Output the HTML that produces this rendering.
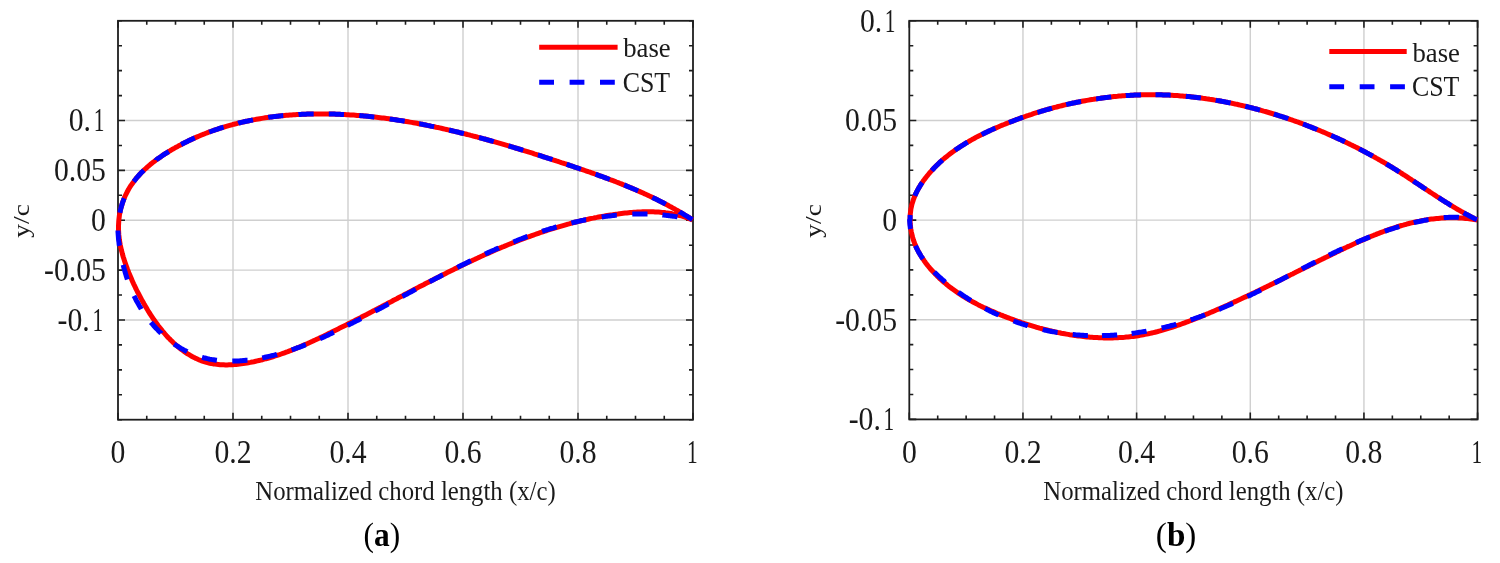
<!DOCTYPE html>
<html><head><meta charset="utf-8"><title>Airfoil comparison</title>
<style>
html,body{margin:0;padding:0;background:#fff;}
svg{display:block;}
text{font-family:"Liberation Serif","Times New Roman",serif;fill:#1a1a1a;}
.tk{font-size:33px;}
.lb{font-size:27.5px;}
.lg{font-size:28.3px;}
.lg2{font-size:29.5px;}
.cap{font-size:33.8px;fill:#000;}
.g{stroke:#cfcfcf;stroke-width:1.4;fill:none;}
.t{stroke:#1e1e1e;stroke-width:1.6;fill:none;}
.ax{stroke:#1e1e1e;stroke-width:1.8;fill:none;}
.rc{stroke:#ff0000;stroke-width:5;fill:none;stroke-linejoin:round;}
.bc{stroke:#0000ff;stroke-width:5;fill:none;stroke-linejoin:round;}
</style></head>
<body>
<svg width="1500" height="563" viewBox="0 0 1500 563">
<rect width="1500" height="563" fill="#fff"/>
<line x1="233.00" y1="20.80" x2="233.00" y2="419.70" class="g"/>
<line x1="348.00" y1="20.80" x2="348.00" y2="419.70" class="g"/>
<line x1="463.00" y1="20.80" x2="463.00" y2="419.70" class="g"/>
<line x1="578.00" y1="20.80" x2="578.00" y2="419.70" class="g"/>
<line x1="118.00" y1="120.52" x2="693.00" y2="120.52" class="g"/>
<line x1="118.00" y1="170.39" x2="693.00" y2="170.39" class="g"/>
<line x1="118.00" y1="220.25" x2="693.00" y2="220.25" class="g"/>
<line x1="118.00" y1="270.11" x2="693.00" y2="270.11" class="g"/>
<line x1="118.00" y1="319.98" x2="693.00" y2="319.98" class="g"/>
<line x1="1022.96" y1="20.80" x2="1022.96" y2="419.40" class="g"/>
<line x1="1136.62" y1="20.80" x2="1136.62" y2="419.40" class="g"/>
<line x1="1250.28" y1="20.80" x2="1250.28" y2="419.40" class="g"/>
<line x1="1363.94" y1="20.80" x2="1363.94" y2="419.40" class="g"/>
<line x1="909.30" y1="120.45" x2="1477.60" y2="120.45" class="g"/>
<line x1="909.30" y1="220.10" x2="1477.60" y2="220.10" class="g"/>
<line x1="909.30" y1="319.75" x2="1477.60" y2="319.75" class="g"/>
<path d="M118.00 419.70v-7.0M118.00 20.80v7.0M146.75 419.70v-4.0M146.75 20.80v4.0M175.50 419.70v-4.0M175.50 20.80v4.0M204.25 419.70v-4.0M204.25 20.80v4.0M233.00 419.70v-7.0M233.00 20.80v7.0M261.75 419.70v-4.0M261.75 20.80v4.0M290.50 419.70v-4.0M290.50 20.80v4.0M319.25 419.70v-4.0M319.25 20.80v4.0M348.00 419.70v-7.0M348.00 20.80v7.0M376.75 419.70v-4.0M376.75 20.80v4.0M405.50 419.70v-4.0M405.50 20.80v4.0M434.25 419.70v-4.0M434.25 20.80v4.0M463.00 419.70v-7.0M463.00 20.80v7.0M491.75 419.70v-4.0M491.75 20.80v4.0M520.50 419.70v-4.0M520.50 20.80v4.0M549.25 419.70v-4.0M549.25 20.80v4.0M578.00 419.70v-7.0M578.00 20.80v7.0M606.75 419.70v-4.0M606.75 20.80v4.0M635.50 419.70v-4.0M635.50 20.80v4.0M664.25 419.70v-4.0M664.25 20.80v4.0M693.00 419.70v-7.0M693.00 20.80v7.0M118.00 419.70h4.0M693.00 419.70h-4.0M118.00 394.77h4.0M693.00 394.77h-4.0M118.00 369.84h4.0M693.00 369.84h-4.0M118.00 344.91h4.0M693.00 344.91h-4.0M118.00 319.98h7.0M693.00 319.98h-7.0M118.00 295.04h4.0M693.00 295.04h-4.0M118.00 270.11h7.0M693.00 270.11h-7.0M118.00 245.18h4.0M693.00 245.18h-4.0M118.00 220.25h7.0M693.00 220.25h-7.0M118.00 195.32h4.0M693.00 195.32h-4.0M118.00 170.39h7.0M693.00 170.39h-7.0M118.00 145.46h4.0M693.00 145.46h-4.0M118.00 120.52h7.0M693.00 120.52h-7.0M118.00 95.59h4.0M693.00 95.59h-4.0M118.00 70.66h4.0M693.00 70.66h-4.0M118.00 45.73h4.0M693.00 45.73h-4.0M118.00 20.80h4.0M693.00 20.80h-4.0" class="t"/>
<rect x="118.00" y="20.80" width="575.00" height="398.90" class="ax"/>
<path d="M909.30 419.40v-7.0M909.30 20.80v7.0M937.71 419.40v-4.0M937.71 20.80v4.0M966.13 419.40v-4.0M966.13 20.80v4.0M994.54 419.40v-4.0M994.54 20.80v4.0M1022.96 419.40v-7.0M1022.96 20.80v7.0M1051.38 419.40v-4.0M1051.38 20.80v4.0M1079.79 419.40v-4.0M1079.79 20.80v4.0M1108.20 419.40v-4.0M1108.20 20.80v4.0M1136.62 419.40v-7.0M1136.62 20.80v7.0M1165.03 419.40v-4.0M1165.03 20.80v4.0M1193.45 419.40v-4.0M1193.45 20.80v4.0M1221.87 419.40v-4.0M1221.87 20.80v4.0M1250.28 419.40v-7.0M1250.28 20.80v7.0M1278.69 419.40v-4.0M1278.69 20.80v4.0M1307.11 419.40v-4.0M1307.11 20.80v4.0M1335.52 419.40v-4.0M1335.52 20.80v4.0M1363.94 419.40v-7.0M1363.94 20.80v7.0M1392.36 419.40v-4.0M1392.36 20.80v4.0M1420.77 419.40v-4.0M1420.77 20.80v4.0M1449.18 419.40v-4.0M1449.18 20.80v4.0M1477.60 419.40v-7.0M1477.60 20.80v7.0M909.30 419.40h7.0M1477.60 419.40h-7.0M909.30 394.49h4.0M1477.60 394.49h-4.0M909.30 369.57h4.0M1477.60 369.57h-4.0M909.30 344.66h4.0M1477.60 344.66h-4.0M909.30 319.75h7.0M1477.60 319.75h-7.0M909.30 294.84h4.0M1477.60 294.84h-4.0M909.30 269.92h4.0M1477.60 269.92h-4.0M909.30 245.01h4.0M1477.60 245.01h-4.0M909.30 220.10h7.0M1477.60 220.10h-7.0M909.30 195.19h4.0M1477.60 195.19h-4.0M909.30 170.28h4.0M1477.60 170.28h-4.0M909.30 145.36h4.0M1477.60 145.36h-4.0M909.30 120.45h7.0M1477.60 120.45h-7.0M909.30 95.54h4.0M1477.60 95.54h-4.0M909.30 70.62h4.0M1477.60 70.62h-4.0M909.30 45.71h4.0M1477.60 45.71h-4.0M909.30 20.80h7.0M1477.60 20.80h-7.0" class="t"/>
<rect x="909.30" y="20.80" width="568.30" height="398.60" class="ax"/>
<path d="M692.6 219.9 L691.1 218.9 L689.6 217.9 L688.1 217.0 L686.5 216.0 L685.0 215.1 L683.5 214.2 L681.9 213.2 L680.4 212.3 L678.8 211.4 L677.3 210.5 L675.7 209.6 L674.2 208.7 L672.6 207.9 L671.1 207.0 L669.5 206.2 L667.9 205.3 L666.4 204.5 L664.8 203.7 L663.2 202.8 L661.6 202.0 L660.1 201.2 L658.5 200.4 L656.9 199.6 L655.3 198.8 L653.7 198.1 L652.1 197.3 L650.5 196.5 L648.9 195.8 L647.3 195.0 L645.7 194.3 L644.1 193.6 L642.5 192.8 L640.9 192.1 L639.3 191.4 L637.6 190.7 L636.0 190.0 L634.4 189.3 L632.8 188.6 L631.2 187.9 L629.5 187.2 L627.9 186.6 L626.3 185.9 L624.6 185.2 L623.0 184.6 L621.4 183.9 L619.7 183.3 L618.1 182.6 L616.4 182.0 L614.8 181.3 L613.1 180.7 L611.5 180.1 L609.8 179.5 L608.2 178.8 L606.5 178.2 L604.9 177.6 L603.2 177.0 L601.5 176.4 L599.9 175.8 L598.2 175.2 L596.6 174.6 L594.9 174.0 L593.2 173.4 L591.6 172.8 L589.9 172.2 L588.2 171.7 L586.5 171.1 L584.9 170.5 L583.2 169.9 L581.5 169.3 L579.8 168.8 L578.2 168.2 L576.5 167.6 L574.8 167.1 L573.1 166.5 L571.4 165.9 L569.7 165.4 L568.1 164.8 L566.4 164.2 L564.7 163.7 L563.0 163.1 L561.3 162.6 L559.6 162.0 L557.9 161.4 L556.3 160.9 L554.6 160.3 L552.9 159.8 L551.2 159.2 L549.5 158.7 L547.8 158.1 L546.1 157.6 L544.4 157.0 L542.7 156.5 L541.0 155.9 L539.3 155.4 L537.6 154.8 L535.9 154.3 L534.2 153.8 L532.5 153.2 L530.8 152.7 L529.1 152.2 L527.4 151.6 L525.7 151.1 L524.0 150.6 L522.3 150.0 L520.6 149.5 L518.9 149.0 L517.2 148.5 L515.5 148.0 L513.8 147.4 L512.0 146.9 L510.3 146.4 L508.6 145.9 L506.9 145.4 L505.2 144.9 L503.5 144.4 L501.8 143.9 L500.1 143.4 L498.3 142.9 L496.6 142.4 L494.9 141.9 L493.2 141.4 L491.5 141.0 L489.7 140.5 L488.0 140.0 L486.3 139.5 L484.6 139.0 L482.9 138.6 L481.1 138.1 L479.4 137.6 L477.7 137.2 L476.0 136.7 L474.2 136.3 L472.5 135.8 L470.8 135.4 L469.1 134.9 L467.3 134.5 L465.6 134.0 L463.9 133.6 L462.1 133.2 L460.4 132.8 L458.7 132.3 L456.9 131.9 L455.2 131.5 L453.5 131.1 L451.7 130.7 L450.0 130.3 L448.3 129.9 L446.5 129.5 L444.8 129.1 L443.1 128.7 L441.3 128.3 L439.6 127.9 L437.9 127.5 L436.1 127.2 L434.4 126.8 L432.6 126.4 L430.9 126.1 L429.1 125.7 L427.4 125.4 L425.7 125.0 L423.9 124.7 L422.2 124.3 L420.4 124.0 L418.7 123.7 L416.9 123.3 L415.2 123.0 L413.4 122.7 L411.7 122.4 L409.9 122.1 L408.2 121.8 L406.4 121.5 L404.7 121.2 L402.9 120.9 L401.2 120.6 L399.4 120.4 L397.7 120.1 L395.9 119.8 L394.2 119.6 L392.4 119.3 L390.7 119.1 L388.9 118.8 L387.1 118.6 L385.4 118.3 L383.6 118.1 L381.9 117.9 L380.1 117.7 L378.4 117.5 L376.6 117.3 L374.8 117.1 L373.1 116.9 L371.3 116.7 L369.5 116.5 L367.8 116.3 L366.0 116.1 L364.3 116.0 L362.5 115.8 L360.7 115.7 L359.0 115.5 L357.2 115.4 L355.4 115.2 L353.7 115.1 L351.9 115.0 L350.1 114.9 L348.4 114.8 L346.6 114.7 L344.8 114.6 L343.1 114.5 L341.3 114.4 L339.5 114.3 L337.7 114.2 L336.0 114.2 L334.2 114.1 L332.4 114.1 L330.6 114.0 L328.9 114.0 L327.1 113.9 L325.3 113.9 L323.6 113.9 L321.8 113.9 L320.0 113.9 L318.2 113.9 L316.4 113.9 L314.7 113.9 L312.9 114.0 L311.1 114.0 L309.3 114.0 L307.6 114.1 L305.8 114.2 L304.0 114.2 L302.2 114.3 L300.5 114.4 L298.7 114.5 L296.9 114.6 L295.2 114.7 L293.4 114.8 L291.6 114.9 L289.8 115.0 L288.1 115.2 L286.3 115.3 L284.5 115.5 L282.8 115.7 L281.0 115.8 L279.2 116.0 L277.5 116.2 L275.7 116.4 L274.0 116.6 L272.2 116.9 L270.4 117.1 L268.7 117.3 L266.9 117.6 L265.2 117.8 L263.4 118.1 L261.7 118.4 L259.9 118.7 L258.2 119.0 L256.4 119.3 L254.7 119.6 L253.0 119.9 L251.2 120.3 L249.5 120.6 L247.8 121.0 L246.0 121.3 L244.3 121.7 L242.6 122.1 L240.8 122.5 L239.1 122.9 L237.4 123.3 L235.7 123.8 L234.0 124.2 L232.3 124.7 L230.6 125.1 L228.8 125.6 L227.1 126.1 L225.4 126.6 L223.8 127.1 L222.1 127.6 L220.4 128.2 L218.7 128.7 L217.0 129.3 L215.3 129.9 L213.6 130.4 L212.0 131.0 L210.3 131.6 L208.6 132.2 L207.0 132.9 L205.3 133.5 L203.7 134.2 L202.0 134.8 L200.4 135.5 L198.7 136.2 L197.1 136.9 L195.4 137.6 L193.8 138.4 L192.2 139.1 L190.6 139.9 L188.9 140.6 L187.3 141.4 L185.7 142.2 L184.1 143.0 L182.5 143.8 L180.9 144.7 L179.3 145.5 L177.7 146.4 L176.1 147.2 L174.6 148.1 L173.0 149.0 L171.4 149.9 L169.9 150.9 L168.3 151.8 L166.8 152.8 L165.2 153.7 L163.7 154.7 L162.2 155.7 L160.7 156.8 L159.2 157.8 L157.7 158.8 L156.2 159.9 L154.8 161.0 L153.4 162.1 L151.9 163.2 L150.5 164.3 L149.2 165.5 L147.8 166.6 L146.5 167.8 L145.2 169.0 L143.9 170.2 L142.6 171.5 L141.3 172.7 L140.1 174.0 L138.9 175.3 L137.8 176.6 L136.6 177.9 L135.5 179.3 L134.4 180.7 L133.4 182.1 L132.4 183.5 L131.4 184.9 L130.4 186.3 L129.5 187.8 L128.6 189.3 L127.8 190.8 L127.0 192.3 L126.2 193.9 L125.4 195.5 L124.7 197.0 L124.1 198.6 L123.4 200.3 L122.8 201.9 L122.3 203.5 L121.8 205.2 L121.3 206.9 L120.8 208.5 L120.4 210.2 L120.1 211.9 L119.7 213.6 L119.4 215.4 L119.2 217.1 L119.0 218.8 L118.8 220.6 L118.7 222.3 L118.6 224.1 L118.5 225.8 L118.5 227.6 L118.5 229.4 L118.6 231.1 L118.7 232.9 L118.8 234.7 L119.0 236.4 L119.2 238.2 L119.4 240.0 L119.7 241.7 L120.0 243.5 L120.3 245.2 L120.7 247.0 L121.1 248.8 L121.5 250.5 L122.0 252.3 L122.4 254.0 L122.9 255.7 L123.4 257.5 L124.0 259.2 L124.5 260.9 L125.1 262.6 L125.7 264.3 L126.3 266.0 L126.9 267.7 L127.5 269.4 L128.2 271.0 L128.8 272.7 L129.5 274.3 L130.2 276.0 L130.9 277.6 L131.6 279.3 L132.3 280.9 L133.0 282.5 L133.7 284.1 L134.5 285.7 L135.3 287.3 L136.0 288.9 L136.8 290.5 L137.6 292.1 L138.5 293.6 L139.3 295.2 L140.1 296.8 L141.0 298.4 L141.8 299.9 L142.7 301.5 L143.6 303.1 L144.4 304.6 L145.3 306.2 L146.3 307.7 L147.2 309.3 L148.1 310.8 L149.1 312.3 L150.0 313.9 L151.0 315.4 L152.0 316.9 L153.0 318.4 L154.0 319.9 L155.1 321.3 L156.1 322.8 L157.2 324.3 L158.2 325.7 L159.3 327.1 L160.4 328.5 L161.6 329.9 L162.7 331.3 L163.9 332.7 L165.0 334.0 L166.2 335.4 L167.4 336.7 L168.6 338.0 L169.9 339.2 L171.1 340.5 L172.4 341.7 L173.7 343.0 L175.0 344.2 L176.3 345.3 L177.7 346.5 L179.0 347.6 L180.4 348.7 L181.8 349.8 L183.2 350.8 L184.7 351.9 L186.1 352.8 L187.6 353.8 L189.1 354.7 L190.6 355.6 L192.1 356.5 L193.6 357.3 L195.2 358.1 L196.8 358.8 L198.3 359.5 L199.9 360.2 L201.6 360.8 L203.2 361.4 L204.8 361.9 L206.5 362.4 L208.2 362.8 L209.8 363.2 L211.5 363.6 L213.2 363.9 L215.0 364.1 L216.7 364.3 L218.4 364.5 L220.2 364.7 L221.9 364.8 L223.7 364.8 L225.4 364.9 L227.2 364.9 L229.0 364.8 L230.7 364.8 L232.5 364.7 L234.3 364.6 L236.1 364.4 L237.9 364.2 L239.6 364.0 L241.4 363.8 L243.2 363.6 L245.0 363.3 L246.8 363.0 L248.5 362.7 L250.3 362.4 L252.1 362.0 L253.8 361.7 L255.6 361.3 L257.3 360.9 L259.0 360.5 L260.8 360.1 L262.5 359.7 L264.2 359.2 L266.0 358.7 L267.7 358.3 L269.4 357.8 L271.1 357.3 L272.8 356.8 L274.5 356.2 L276.2 355.7 L277.9 355.1 L279.5 354.6 L281.2 354.0 L282.9 353.4 L284.6 352.8 L286.2 352.2 L287.9 351.6 L289.6 350.9 L291.2 350.3 L292.9 349.7 L294.5 349.0 L296.2 348.3 L297.8 347.7 L299.5 347.0 L301.1 346.3 L302.7 345.6 L304.4 344.9 L306.0 344.2 L307.6 343.5 L309.3 342.7 L310.9 342.0 L312.5 341.3 L314.1 340.5 L315.7 339.8 L317.4 339.0 L319.0 338.3 L320.6 337.5 L322.2 336.7 L323.8 336.0 L325.4 335.2 L327.0 334.4 L328.6 333.6 L330.2 332.9 L331.8 332.1 L333.4 331.3 L335.0 330.5 L336.6 329.7 L338.2 328.9 L339.8 328.1 L341.4 327.3 L343.0 326.5 L344.6 325.7 L346.2 324.9 L347.8 324.1 L349.4 323.3 L351.0 322.5 L352.5 321.7 L354.1 320.9 L355.7 320.1 L357.3 319.3 L358.9 318.5 L360.5 317.7 L362.1 316.8 L363.6 316.0 L365.2 315.2 L366.8 314.4 L368.4 313.6 L370.0 312.7 L371.5 311.9 L373.1 311.1 L374.7 310.3 L376.3 309.4 L377.9 308.6 L379.4 307.8 L381.0 307.0 L382.6 306.1 L384.2 305.3 L385.7 304.5 L387.3 303.6 L388.9 302.8 L390.5 302.0 L392.0 301.2 L393.6 300.3 L395.2 299.5 L396.8 298.7 L398.4 297.8 L399.9 297.0 L401.5 296.2 L403.1 295.4 L404.7 294.5 L406.2 293.7 L407.8 292.9 L409.4 292.1 L411.0 291.2 L412.5 290.4 L414.1 289.6 L415.7 288.8 L417.3 287.9 L418.8 287.1 L420.4 286.3 L422.0 285.5 L423.6 284.7 L425.2 283.8 L426.7 283.0 L428.3 282.2 L429.9 281.4 L431.5 280.6 L433.1 279.8 L434.6 279.0 L436.2 278.2 L437.8 277.4 L439.4 276.6 L441.0 275.8 L442.6 275.0 L444.1 274.2 L445.7 273.4 L447.3 272.6 L448.9 271.8 L450.5 271.0 L452.1 270.2 L453.7 269.4 L455.3 268.6 L456.9 267.9 L458.5 267.1 L460.1 266.3 L461.7 265.5 L463.2 264.8 L464.8 264.0 L466.4 263.2 L468.0 262.5 L469.6 261.7 L471.3 261.0 L472.9 260.2 L474.5 259.5 L476.1 258.7 L477.7 258.0 L479.3 257.2 L480.9 256.5 L482.5 255.8 L484.1 255.0 L485.7 254.3 L487.4 253.6 L489.0 252.9 L490.6 252.1 L492.2 251.4 L493.8 250.7 L495.5 250.0 L497.1 249.3 L498.7 248.6 L500.4 247.9 L502.0 247.2 L503.6 246.6 L505.3 245.9 L506.9 245.2 L508.5 244.5 L510.2 243.9 L511.8 243.2 L513.5 242.6 L515.1 241.9 L516.8 241.3 L518.4 240.6 L520.1 240.0 L521.7 239.3 L523.4 238.7 L525.0 238.1 L526.7 237.5 L528.4 236.9 L530.0 236.3 L531.7 235.7 L533.4 235.1 L535.0 234.5 L536.7 233.9 L538.4 233.3 L540.1 232.7 L541.8 232.2 L543.5 231.6 L545.1 231.0 L546.8 230.5 L548.5 229.9 L550.2 229.4 L551.9 228.9 L553.6 228.3 L555.3 227.8 L557.0 227.3 L558.7 226.8 L560.4 226.3 L562.2 225.8 L563.9 225.3 L565.6 224.8 L567.3 224.3 L569.0 223.9 L570.8 223.4 L572.5 222.9 L574.2 222.5 L575.9 222.0 L577.7 221.6 L579.4 221.2 L581.1 220.8 L582.9 220.4 L584.6 220.0 L586.4 219.6 L588.1 219.2 L589.8 218.8 L591.6 218.4 L593.3 218.1 L595.1 217.7 L596.8 217.4 L598.6 217.0 L600.3 216.7 L602.1 216.4 L603.9 216.1 L605.6 215.8 L607.4 215.5 L609.1 215.2 L610.9 214.9 L612.7 214.7 L614.4 214.4 L616.2 214.2 L617.9 214.0 L619.7 213.7 L621.5 213.5 L623.2 213.3 L625.0 213.1 L626.8 213.0 L628.6 212.8 L630.3 212.6 L632.1 212.5 L633.9 212.3 L635.6 212.2 L637.4 212.1 L639.2 212.0 L641.0 211.9 L642.7 211.8 L644.5 211.8 L646.3 211.8 L648.0 211.7 L649.8 211.7 L651.6 211.8 L653.3 211.8 L655.1 211.9 L656.9 212.0 L658.6 212.1 L660.4 212.2 L662.1 212.4 L663.9 212.5 L665.6 212.8 L667.4 213.0 L669.1 213.2 L670.9 213.5 L672.6 213.9 L674.3 214.2 L676.0 214.6 L677.8 215.0 L679.5 215.5 L681.2 215.9 L682.9 216.4 L684.6 217.0 L686.3 217.6 L688.0 218.2 L689.7 218.9 L691.3 219.5 L692.6 220.1" class="rc"/>
<path d="M1477.4 220.0 L1475.9 219.3 L1474.3 218.5 L1472.8 217.7 L1471.3 216.9 L1469.8 216.1 L1468.3 215.3 L1466.7 214.5 L1465.2 213.7 L1463.7 212.9 L1462.3 212.0 L1460.8 211.2 L1459.3 210.3 L1457.8 209.5 L1456.3 208.6 L1454.8 207.7 L1453.4 206.8 L1451.9 205.9 L1450.4 205.1 L1449.0 204.2 L1447.5 203.2 L1446.0 202.3 L1444.6 201.4 L1443.1 200.5 L1441.7 199.6 L1440.2 198.7 L1438.8 197.7 L1437.3 196.8 L1435.9 195.9 L1434.4 194.9 L1433.0 194.0 L1431.5 193.0 L1430.1 192.1 L1428.7 191.1 L1427.2 190.2 L1425.8 189.2 L1424.3 188.3 L1422.9 187.3 L1421.5 186.4 L1420.0 185.4 L1418.6 184.5 L1417.2 183.5 L1415.7 182.6 L1414.3 181.6 L1412.8 180.7 L1411.4 179.7 L1410.0 178.8 L1408.5 177.8 L1407.1 176.9 L1405.6 175.9 L1404.2 175.0 L1402.7 174.1 L1401.3 173.1 L1399.8 172.2 L1398.4 171.3 L1396.9 170.4 L1395.4 169.5 L1394.0 168.6 L1392.5 167.6 L1391.1 166.7 L1389.6 165.9 L1388.1 165.0 L1386.6 164.1 L1385.2 163.2 L1383.7 162.3 L1382.2 161.5 L1380.7 160.6 L1379.2 159.8 L1377.7 158.9 L1376.2 158.1 L1374.7 157.2 L1373.2 156.4 L1371.7 155.5 L1370.2 154.7 L1368.7 153.9 L1367.2 153.1 L1365.7 152.3 L1364.2 151.5 L1362.7 150.7 L1361.2 149.9 L1359.6 149.1 L1358.1 148.3 L1356.6 147.5 L1355.1 146.8 L1353.5 146.0 L1352.0 145.2 L1350.4 144.5 L1348.9 143.7 L1347.4 143.0 L1345.8 142.2 L1344.3 141.5 L1342.7 140.7 L1341.2 140.0 L1339.6 139.3 L1338.0 138.6 L1336.5 137.9 L1334.9 137.2 L1333.3 136.5 L1331.8 135.8 L1330.2 135.1 L1328.6 134.4 L1327.1 133.7 L1325.5 133.0 L1323.9 132.3 L1322.3 131.7 L1320.7 131.0 L1319.1 130.3 L1317.5 129.7 L1315.9 129.0 L1314.3 128.4 L1312.7 127.8 L1311.1 127.1 L1309.5 126.5 L1307.9 125.9 L1306.3 125.3 L1304.7 124.6 L1303.1 124.0 L1301.5 123.4 L1299.9 122.8 L1298.2 122.2 L1296.6 121.7 L1295.0 121.1 L1293.3 120.5 L1291.7 119.9 L1290.1 119.4 L1288.5 118.8 L1286.8 118.2 L1285.2 117.7 L1283.5 117.1 L1281.9 116.6 L1280.2 116.1 L1278.6 115.6 L1276.9 115.0 L1275.3 114.5 L1273.6 114.0 L1272.0 113.5 L1270.3 113.0 L1268.7 112.5 L1267.0 112.0 L1265.4 111.5 L1263.7 111.1 L1262.0 110.6 L1260.4 110.1 L1258.7 109.7 L1257.0 109.2 L1255.3 108.8 L1253.7 108.4 L1252.0 107.9 L1250.3 107.5 L1248.6 107.1 L1247.0 106.7 L1245.3 106.3 L1243.6 105.9 L1241.9 105.5 L1240.2 105.1 L1238.6 104.7 L1236.9 104.3 L1235.2 104.0 L1233.5 103.6 L1231.8 103.2 L1230.1 102.9 L1228.4 102.6 L1226.7 102.2 L1225.0 101.9 L1223.3 101.6 L1221.6 101.3 L1219.9 101.0 L1218.2 100.7 L1216.5 100.4 L1214.8 100.1 L1213.1 99.8 L1211.4 99.5 L1209.7 99.3 L1208.0 99.0 L1206.3 98.8 L1204.6 98.5 L1202.9 98.3 L1201.2 98.0 L1199.5 97.8 L1197.8 97.6 L1196.1 97.4 L1194.4 97.2 L1192.7 97.0 L1191.0 96.8 L1189.3 96.6 L1187.5 96.5 L1185.8 96.3 L1184.1 96.2 L1182.4 96.0 L1180.7 95.9 L1179.0 95.7 L1177.3 95.6 L1175.6 95.5 L1173.9 95.4 L1172.1 95.3 L1170.4 95.2 L1168.7 95.1 L1167.0 95.0 L1165.3 95.0 L1163.6 94.9 L1161.9 94.8 L1160.1 94.8 L1158.4 94.8 L1156.7 94.7 L1155.0 94.7 L1153.3 94.7 L1151.6 94.7 L1149.9 94.7 L1148.2 94.7 L1146.4 94.7 L1144.7 94.8 L1143.0 94.8 L1141.3 94.8 L1139.6 94.9 L1137.9 94.9 L1136.2 95.0 L1134.5 95.1 L1132.8 95.2 L1131.0 95.3 L1129.3 95.4 L1127.6 95.5 L1125.9 95.6 L1124.2 95.7 L1122.5 95.8 L1120.8 96.0 L1119.1 96.1 L1117.4 96.3 L1115.7 96.4 L1114.0 96.6 L1112.3 96.8 L1110.6 97.0 L1108.9 97.2 L1107.2 97.4 L1105.5 97.6 L1103.8 97.8 L1102.1 98.0 L1100.4 98.3 L1098.7 98.5 L1097.0 98.8 L1095.3 99.0 L1093.6 99.3 L1091.9 99.5 L1090.2 99.8 L1088.5 100.1 L1086.8 100.4 L1085.1 100.7 L1083.4 101.0 L1081.8 101.3 L1080.1 101.7 L1078.4 102.0 L1076.7 102.3 L1075.0 102.7 L1073.3 103.0 L1071.7 103.4 L1070.0 103.8 L1068.3 104.1 L1066.6 104.5 L1064.9 104.9 L1063.3 105.3 L1061.6 105.7 L1059.9 106.1 L1058.3 106.5 L1056.6 107.0 L1054.9 107.4 L1053.2 107.8 L1051.6 108.3 L1049.9 108.8 L1048.3 109.2 L1046.6 109.7 L1044.9 110.2 L1043.3 110.7 L1041.6 111.2 L1040.0 111.7 L1038.3 112.2 L1036.7 112.7 L1035.0 113.2 L1033.4 113.7 L1031.7 114.3 L1030.1 114.8 L1028.4 115.4 L1026.8 115.9 L1025.2 116.5 L1023.5 117.1 L1021.9 117.6 L1020.3 118.2 L1018.6 118.8 L1017.0 119.4 L1015.4 120.0 L1013.8 120.6 L1012.1 121.3 L1010.5 121.9 L1008.9 122.5 L1007.3 123.2 L1005.7 123.8 L1004.1 124.5 L1002.4 125.1 L1000.8 125.8 L999.2 126.5 L997.6 127.2 L996.0 127.9 L994.4 128.6 L992.8 129.3 L991.3 130.0 L989.7 130.7 L988.1 131.4 L986.5 132.2 L984.9 132.9 L983.4 133.7 L981.8 134.5 L980.3 135.2 L978.7 136.0 L977.2 136.8 L975.6 137.6 L974.1 138.5 L972.6 139.3 L971.1 140.1 L969.6 141.0 L968.1 141.9 L966.6 142.7 L965.1 143.6 L963.6 144.5 L962.2 145.5 L960.7 146.4 L959.3 147.3 L957.8 148.3 L956.4 149.3 L955.0 150.2 L953.6 151.2 L952.2 152.2 L950.8 153.3 L949.5 154.3 L948.1 155.4 L946.8 156.4 L945.4 157.5 L944.1 158.6 L942.8 159.7 L941.5 160.9 L940.2 162.0 L939.0 163.2 L937.7 164.4 L936.5 165.6 L935.3 166.8 L934.1 168.0 L932.9 169.3 L931.7 170.6 L930.5 171.9 L929.4 173.2 L928.3 174.5 L927.2 175.8 L926.1 177.2 L925.0 178.6 L924.0 179.9 L923.0 181.3 L922.0 182.8 L921.1 184.2 L920.2 185.6 L919.3 187.1 L918.4 188.6 L917.6 190.1 L916.8 191.6 L916.1 193.1 L915.4 194.6 L914.7 196.2 L914.1 197.7 L913.5 199.3 L913.0 200.9 L912.5 202.5 L912.0 204.1 L911.6 205.7 L911.3 207.3 L910.9 209.0 L910.7 210.6 L910.5 212.2 L910.3 213.9 L910.2 215.6 L910.1 217.2 L910.1 218.9 L910.1 220.6 L910.1 222.3 L910.2 223.9 L910.4 225.6 L910.6 227.3 L910.8 228.9 L911.1 230.6 L911.4 232.3 L911.8 233.9 L912.2 235.6 L912.6 237.2 L913.1 238.9 L913.6 240.5 L914.2 242.1 L914.8 243.7 L915.5 245.3 L916.1 246.8 L916.9 248.4 L917.6 249.9 L918.4 251.5 L919.3 253.0 L920.1 254.5 L921.0 256.0 L921.9 257.4 L922.9 258.9 L923.9 260.3 L924.9 261.8 L925.9 263.2 L927.0 264.6 L928.1 266.0 L929.2 267.3 L930.3 268.7 L931.5 270.0 L932.7 271.3 L933.9 272.6 L935.1 273.9 L936.3 275.1 L937.6 276.4 L938.8 277.6 L940.1 278.8 L941.4 280.0 L942.7 281.1 L944.0 282.3 L945.4 283.4 L946.7 284.5 L948.0 285.6 L949.4 286.7 L950.8 287.7 L952.2 288.8 L953.6 289.8 L955.0 290.8 L956.4 291.8 L957.8 292.8 L959.2 293.7 L960.7 294.7 L962.1 295.6 L963.6 296.5 L965.0 297.4 L966.5 298.3 L968.0 299.2 L969.5 300.0 L971.0 300.9 L972.5 301.7 L974.0 302.5 L975.5 303.3 L977.0 304.1 L978.5 304.9 L980.1 305.7 L981.6 306.4 L983.2 307.2 L984.7 307.9 L986.3 308.6 L987.8 309.3 L989.4 310.1 L991.0 310.8 L992.5 311.4 L994.1 312.1 L995.7 312.8 L997.3 313.5 L998.9 314.1 L1000.5 314.8 L1002.1 315.4 L1003.7 316.1 L1005.3 316.7 L1006.9 317.3 L1008.5 317.9 L1010.1 318.5 L1011.7 319.1 L1013.3 319.7 L1014.9 320.3 L1016.5 320.9 L1018.2 321.5 L1019.8 322.0 L1021.4 322.6 L1023.1 323.1 L1024.7 323.7 L1026.3 324.2 L1028.0 324.7 L1029.6 325.2 L1031.3 325.7 L1032.9 326.2 L1034.6 326.7 L1036.2 327.2 L1037.9 327.6 L1039.5 328.1 L1041.2 328.5 L1042.9 329.0 L1044.5 329.4 L1046.2 329.8 L1047.9 330.2 L1049.5 330.6 L1051.2 331.0 L1052.9 331.4 L1054.6 331.8 L1056.3 332.1 L1057.9 332.5 L1059.6 332.8 L1061.3 333.2 L1063.0 333.5 L1064.7 333.8 L1066.4 334.1 L1068.1 334.4 L1069.8 334.7 L1071.5 334.9 L1073.2 335.2 L1074.9 335.4 L1076.6 335.7 L1078.3 335.9 L1080.0 336.1 L1081.7 336.3 L1083.4 336.5 L1085.2 336.7 L1086.9 336.9 L1088.6 337.0 L1090.3 337.2 L1092.0 337.3 L1093.7 337.4 L1095.5 337.5 L1097.2 337.6 L1098.9 337.7 L1100.6 337.8 L1102.3 337.8 L1104.0 337.9 L1105.8 337.9 L1107.5 337.9 L1109.2 337.9 L1110.9 337.9 L1112.6 337.9 L1114.4 337.8 L1116.1 337.8 L1117.8 337.7 L1119.5 337.6 L1121.2 337.5 L1122.9 337.4 L1124.6 337.3 L1126.4 337.1 L1128.1 337.0 L1129.8 336.8 L1131.5 336.6 L1133.2 336.4 L1134.9 336.2 L1136.6 335.9 L1138.3 335.7 L1140.0 335.4 L1141.6 335.1 L1143.3 334.8 L1145.0 334.4 L1146.7 334.1 L1148.4 333.8 L1150.1 333.4 L1151.7 333.0 L1153.4 332.6 L1155.1 332.2 L1156.8 331.8 L1158.4 331.3 L1160.1 330.9 L1161.7 330.4 L1163.4 329.9 L1165.1 329.4 L1166.7 328.9 L1168.4 328.4 L1170.0 327.9 L1171.7 327.4 L1173.3 326.8 L1174.9 326.3 L1176.6 325.7 L1178.2 325.2 L1179.9 324.6 L1181.5 324.0 L1183.1 323.4 L1184.7 322.8 L1186.4 322.2 L1188.0 321.6 L1189.6 321.0 L1191.2 320.4 L1192.8 319.7 L1194.5 319.1 L1196.1 318.5 L1197.7 317.8 L1199.3 317.2 L1200.9 316.5 L1202.5 315.9 L1204.1 315.2 L1205.7 314.5 L1207.3 313.9 L1208.9 313.2 L1210.4 312.5 L1212.0 311.9 L1213.6 311.2 L1215.2 310.5 L1216.8 309.8 L1218.4 309.1 L1219.9 308.5 L1221.5 307.8 L1223.1 307.1 L1224.6 306.4 L1226.2 305.7 L1227.8 305.0 L1229.3 304.3 L1230.9 303.6 L1232.5 302.9 L1234.0 302.1 L1235.6 301.4 L1237.1 300.7 L1238.7 300.0 L1240.3 299.3 L1241.8 298.6 L1243.4 297.8 L1244.9 297.1 L1246.5 296.4 L1248.0 295.6 L1249.6 294.9 L1251.1 294.2 L1252.6 293.4 L1254.2 292.7 L1255.7 292.0 L1257.3 291.2 L1258.8 290.5 L1260.4 289.7 L1261.9 289.0 L1263.4 288.3 L1265.0 287.5 L1266.5 286.8 L1268.1 286.0 L1269.6 285.3 L1271.1 284.5 L1272.7 283.7 L1274.2 283.0 L1275.7 282.2 L1277.3 281.5 L1278.8 280.7 L1280.4 280.0 L1281.9 279.2 L1283.4 278.4 L1285.0 277.7 L1286.5 276.9 L1288.0 276.1 L1289.6 275.4 L1291.1 274.6 L1292.6 273.9 L1294.2 273.1 L1295.7 272.3 L1297.2 271.6 L1298.8 270.8 L1300.3 270.0 L1301.9 269.3 L1303.4 268.5 L1304.9 267.7 L1306.5 267.0 L1308.0 266.2 L1309.6 265.4 L1311.1 264.6 L1312.7 263.9 L1314.2 263.1 L1315.7 262.3 L1317.3 261.6 L1318.8 260.8 L1320.4 260.0 L1321.9 259.3 L1323.5 258.5 L1325.0 257.7 L1326.6 257.0 L1328.2 256.2 L1329.7 255.5 L1331.3 254.7 L1332.8 253.9 L1334.4 253.2 L1336.0 252.4 L1337.5 251.6 L1339.1 250.9 L1340.7 250.1 L1342.2 249.4 L1343.8 248.6 L1345.4 247.9 L1346.9 247.1 L1348.5 246.4 L1350.1 245.7 L1351.7 244.9 L1353.2 244.2 L1354.8 243.5 L1356.4 242.8 L1358.0 242.0 L1359.6 241.3 L1361.2 240.6 L1362.8 239.9 L1364.4 239.2 L1366.0 238.6 L1367.5 237.9 L1369.1 237.2 L1370.7 236.5 L1372.3 235.9 L1374.0 235.2 L1375.6 234.6 L1377.2 233.9 L1378.8 233.3 L1380.4 232.7 L1382.0 232.1 L1383.6 231.5 L1385.2 230.9 L1386.9 230.3 L1388.5 229.7 L1390.1 229.2 L1391.7 228.6 L1393.4 228.1 L1395.0 227.6 L1396.6 227.0 L1398.3 226.5 L1399.9 226.0 L1401.5 225.5 L1403.2 225.1 L1404.8 224.6 L1406.5 224.2 L1408.1 223.7 L1409.8 223.3 L1411.4 222.9 L1413.1 222.5 L1414.7 222.1 L1416.4 221.7 L1418.0 221.4 L1419.7 221.1 L1421.4 220.7 L1423.0 220.4 L1424.7 220.1 L1426.4 219.9 L1428.1 219.6 L1429.7 219.3 L1431.4 219.1 L1433.1 218.9 L1434.8 218.7 L1436.5 218.5 L1438.2 218.4 L1439.9 218.2 L1441.6 218.1 L1443.3 218.0 L1445.0 217.9 L1446.7 217.8 L1448.4 217.8 L1450.1 217.8 L1451.8 217.7 L1453.5 217.8 L1455.2 217.8 L1457.0 217.8 L1458.7 217.9 L1460.4 218.0 L1462.1 218.1 L1463.9 218.2 L1465.6 218.4 L1467.4 218.6 L1469.1 218.7 L1470.8 219.0 L1472.6 219.2 L1474.3 219.5 L1476.1 219.8 L1477.4 220.0" class="rc"/>
<path d="M692.4 219.7 L691.1 218.9 L690.0 218.2 L688.8 217.5 L687.7 216.7 L686.5 216.0 L685.4 215.3 L684.2 214.6 L683.1 213.9 L681.9 213.2 L680.8 212.5 L679.6 211.9 L679.4 211.7 M665.8 204.2 L664.4 203.4 L663.2 202.8 L662.0 202.2 L660.8 201.6 L659.7 201.0 L658.5 200.4 L657.3 199.8 L656.1 199.2 L654.9 198.6 L653.7 198.1 L652.5 197.5 L652.3 197.4 M638.1 190.9 L636.8 190.3 L635.6 189.8 L634.4 189.3 L633.2 188.8 L632.0 188.3 L630.7 187.7 L629.5 187.2 L628.3 186.7 L627.1 186.2 L625.9 185.7 L624.6 185.2 L624.1 185.0 M609.8 179.4 L608.6 179.0 L607.3 178.5 L606.1 178.1 L604.9 177.6 L603.6 177.1 L602.4 176.7 L601.1 176.2 L599.9 175.8 L598.6 175.3 L597.4 174.9 L596.1 174.4 L595.5 174.2 M581.0 169.2 L579.8 168.8 L578.6 168.3 L577.3 167.9 L576.1 167.5 L574.8 167.1 L573.5 166.6 L572.3 166.2 L571.0 165.8 L569.7 165.4 L568.5 164.9 L567.2 164.5 L566.6 164.3 M552.4 159.6 L551.2 159.2 L549.9 158.8 L548.6 158.4 L547.4 158.0 L546.1 157.6 L544.8 157.2 L543.6 156.8 L542.3 156.3 L541.0 155.9 L539.7 155.5 L538.5 155.1 L537.9 155.0 M523.2 150.3 L521.9 149.9 L520.6 149.5 L519.3 149.1 L518.0 148.7 L516.7 148.3 L515.5 148.0 L514.2 147.6 L512.9 147.2 L511.6 146.8 L510.3 146.4 L509.0 146.0 L508.6 145.9 M493.7 141.6 L492.3 141.2 L491.0 140.8 L489.7 140.5 L488.5 140.1 L487.2 139.8 L485.9 139.4 L484.6 139.0 L483.3 138.7 L482.0 138.3 L480.7 138.0 L479.4 137.6 L479.0 137.5 M463.9 133.6 L462.6 133.3 L461.3 133.0 L460.0 132.7 L458.7 132.3 L457.4 132.0 L456.1 131.7 L454.8 131.4 L453.5 131.1 L452.2 130.8 L450.9 130.5 L449.6 130.2 L449.1 130.1 M434.1 126.7 L432.6 126.4 L431.3 126.2 L430.0 125.9 L428.7 125.6 L427.4 125.4 L426.1 125.1 L424.8 124.8 L423.5 124.6 L422.2 124.3 L420.9 124.1 L419.5 123.8 L419.2 123.8 M404.7 121.2 L403.4 121.0 L402.1 120.8 L400.7 120.6 L399.4 120.4 L398.1 120.2 L396.8 120.0 L395.5 119.8 L394.2 119.6 L392.9 119.4 L391.5 119.2 L390.2 119.0 L389.7 118.9 M374.3 117.0 L373.1 116.9 L371.8 116.7 L370.4 116.6 L369.1 116.4 L367.8 116.3 L366.5 116.2 L365.1 116.1 L363.8 115.9 L362.5 115.8 L361.2 115.7 L359.8 115.6 L359.2 115.5 M344.0 114.5 L342.6 114.4 L341.3 114.4 L340.0 114.3 L338.6 114.3 L337.3 114.2 L336.0 114.2 L334.6 114.1 L333.3 114.1 L332.0 114.0 L330.6 114.0 L329.3 114.0 L328.8 114.0 M313.7 114.0 L312.5 114.0 L311.1 114.0 L309.8 114.0 L308.5 114.1 L307.1 114.1 L305.8 114.2 L304.5 114.2 L303.1 114.3 L301.8 114.3 L300.5 114.4 L299.1 114.4 L298.5 114.5 M283.3 115.6 L281.9 115.7 L280.6 115.9 L279.2 116.0 L277.9 116.2 L276.6 116.3 L275.3 116.5 L274.0 116.6 L272.6 116.8 L271.3 117.0 L270.0 117.1 L268.7 117.3 L268.2 117.4 M253.0 119.9 L251.7 120.2 L250.4 120.4 L249.1 120.7 L247.8 121.0 L246.5 121.2 L245.2 121.5 L243.9 121.8 L242.6 122.1 L241.3 122.4 L240.0 122.7 L238.7 123.0 L238.2 123.2 M223.6 127.2 L222.1 127.6 L220.8 128.0 L219.5 128.4 L218.3 128.9 L217.0 129.3 L215.7 129.7 L214.5 130.1 L213.2 130.6 L212.0 131.0 L210.7 131.5 L209.5 131.9 L209.2 132.0 M194.8 137.9 L193.4 138.5 L192.2 139.1 L191.0 139.7 L189.7 140.2 L188.5 140.8 L187.3 141.4 L186.1 142.0 L184.9 142.6 L183.7 143.2 L182.5 143.8 L181.3 144.4 L181.1 144.5 M168.8 151.5 L167.5 152.3 L166.4 153.0 L165.2 153.7 L164.1 154.5 L162.9 155.2 L161.8 156.0 L160.7 156.8 L159.6 157.5 L158.4 158.3 L157.3 159.1 L156.2 159.9 L156.2 160.0 M143.8 170.3 L142.9 171.2 L142.0 172.1 L141.0 173.1 L140.1 174.0 L139.2 175.0 L138.3 176.0 L137.5 176.9 L136.6 177.9 L135.8 179.0 L135.0 180.0 L134.2 181.0 L133.7 181.6 M124.2 198.2 L123.7 199.4 L123.3 200.7 L122.8 201.9 L122.4 203.1 L122.0 204.4 L121.6 205.6 L121.3 206.9 L120.9 208.1 L120.6 209.4 L120.3 210.7 L120.1 211.9 L119.9 212.8 M118.0 230.6 L118.0 232.0 L118.1 233.3 L118.2 234.7 L118.3 236.0 L118.4 237.3 L118.5 238.7 L118.6 240.0 L118.8 241.4 L119.0 242.7 L119.1 244.1 L119.3 245.4 L119.4 245.8 M123.2 264.9 L123.5 266.1 L123.8 267.4 L124.2 268.7 L124.5 270.0 L124.9 271.3 L125.2 272.5 L125.6 273.8 L126.0 275.1 L126.4 276.4 L126.8 277.6 L127.2 278.9 L127.4 279.5 M134.0 295.8 L134.7 297.2 L135.3 298.4 L135.9 299.6 L136.5 300.8 L137.2 301.9 L137.8 303.1 L138.5 304.3 L139.1 305.4 L139.8 306.6 L140.5 307.7 L141.2 308.9 L141.3 309.1 M150.9 322.3 L151.8 323.4 L152.7 324.4 L153.6 325.5 L154.5 326.5 L155.4 327.5 L156.3 328.5 L157.3 329.4 L158.2 330.4 L159.2 331.4 L160.1 332.3 L161.1 333.2 L161.2 333.4 M174.1 344.0 L175.3 344.8 L176.4 345.5 L177.5 346.2 L178.6 346.9 L179.8 347.6 L180.9 348.3 L182.0 349.0 L183.2 349.6 L184.3 350.2 L185.5 350.8 L186.7 351.4 L187.2 351.7 M202.0 357.3 L203.4 357.7 L204.6 358.0 L205.9 358.3 L207.2 358.6 L208.4 358.9 L209.7 359.2 L211.0 359.4 L212.3 359.6 L213.6 359.8 L214.9 360.0 L216.2 360.2 L216.9 360.3 M232.3 361.1 L233.8 361.1 L235.1 361.1 L236.5 361.0 L237.8 360.9 L239.1 360.9 L240.5 360.8 L241.8 360.7 L243.2 360.6 L244.5 360.5 L245.8 360.3 L247.2 360.2 L247.5 360.2 M262.2 357.9 L263.6 357.6 L264.9 357.3 L266.2 357.0 L267.6 356.7 L268.9 356.4 L270.2 356.1 L271.5 355.8 L272.8 355.5 L274.1 355.2 L275.4 354.8 L276.7 354.5 L277.0 354.4 M291.6 349.9 L292.8 349.5 L294.0 349.1 L295.3 348.6 L296.5 348.2 L297.8 347.7 L299.0 347.3 L300.3 346.8 L301.5 346.4 L302.8 345.9 L304.0 345.4 L305.2 344.9 L305.9 344.7 M320.0 338.7 L321.1 338.2 L322.3 337.7 L323.5 337.1 L324.7 336.6 L325.9 336.0 L327.1 335.5 L328.3 334.9 L329.5 334.3 L330.7 333.8 L331.9 333.2 L333.1 332.6 L333.8 332.3 M347.6 325.5 L349.0 324.7 L350.2 324.1 L351.4 323.5 L352.6 322.9 L353.7 322.3 L354.9 321.7 L356.1 321.1 L357.3 320.5 L358.5 319.9 L359.7 319.3 L360.8 318.6 L361.1 318.5 M375.2 311.0 L376.6 310.3 L377.8 309.7 L378.9 309.1 L380.1 308.5 L381.3 307.8 L382.5 307.2 L383.6 306.6 L384.8 305.9 L386.0 305.3 L387.2 304.7 L388.3 304.0 L388.6 303.9 M402.4 296.4 L403.6 295.8 L404.8 295.1 L406.0 294.5 L407.2 293.9 L408.3 293.2 L409.5 292.6 L410.7 292.0 L411.9 291.3 L413.0 290.7 L414.2 290.1 L415.4 289.4 L415.8 289.2 M429.5 281.9 L430.7 281.2 L431.9 280.6 L433.1 280.0 L434.2 279.4 L435.4 278.7 L436.6 278.1 L437.8 277.5 L439.0 276.9 L440.2 276.3 L441.3 275.6 L442.5 275.0 L443.0 274.8 M457.3 267.5 L458.4 266.9 L459.5 266.3 L460.7 265.7 L461.9 265.1 L463.1 264.6 L464.3 264.0 L465.5 263.4 L466.7 262.8 L467.9 262.2 L469.1 261.6 L470.3 261.0 L470.9 260.7 M485.0 254.1 L486.3 253.5 L487.5 252.9 L488.8 252.4 L490.0 251.8 L491.2 251.3 L492.4 250.7 L493.6 250.2 L494.8 249.7 L496.0 249.1 L497.2 248.6 L498.5 248.1 L498.9 247.9 M513.3 241.9 L514.4 241.5 L515.6 241.0 L516.9 240.5 L518.1 240.0 L519.3 239.5 L520.6 239.0 L521.8 238.6 L523.1 238.1 L524.3 237.6 L525.5 237.2 L526.8 236.7 L527.5 236.5 M542.1 231.4 L543.5 230.9 L544.8 230.5 L546.0 230.1 L547.3 229.7 L548.6 229.3 L549.8 228.9 L551.1 228.5 L552.4 228.2 L553.7 227.8 L554.9 227.4 L556.2 227.0 L556.6 226.9 M571.4 223.0 L573.0 222.6 L574.3 222.3 L575.6 222.0 L576.9 221.7 L578.2 221.4 L579.5 221.1 L580.8 220.8 L582.1 220.5 L583.4 220.3 L584.7 220.0 L586.0 219.7 L586.2 219.7 M601.7 217.0 L603.2 216.8 L604.5 216.6 L605.9 216.4 L607.2 216.2 L608.5 216.1 L609.8 215.9 L611.2 215.8 L612.5 215.6 L613.8 215.5 L615.2 215.3 L616.5 215.2 L616.8 215.2 M632.3 214.1 L633.8 214.1 L635.1 214.0 L636.5 214.0 L637.8 214.0 L639.1 214.0 L640.4 214.0 L641.8 214.0 L643.1 214.0 L644.4 214.0 L645.8 214.0 L647.1 214.0 L647.5 214.0 M662.4 214.9 L663.9 215.1 L665.2 215.2 L666.5 215.4 L667.8 215.5 L669.1 215.7 L670.5 215.9 L671.8 216.0 L673.1 216.2 L674.4 216.4 L675.7 216.6 L677.0 216.8 L677.5 216.9" class="bc"/>
<path d="M1477.0 219.8 L1475.9 219.3 L1474.7 218.7 L1473.6 218.1 L1472.4 217.5 L1471.3 216.9 L1470.1 216.3 L1469.0 215.7 L1467.9 215.1 L1466.7 214.5 L1465.6 213.9 L1464.5 213.3 L1463.6 212.8 M1451.5 205.7 L1450.4 205.1 L1449.3 204.4 L1448.2 203.7 L1447.1 203.0 L1446.0 202.3 L1444.9 201.7 L1443.9 201.0 L1442.8 200.3 L1441.7 199.6 L1440.6 198.9 L1439.5 198.2 L1438.6 197.6 M1426.0 189.4 L1424.7 188.5 L1423.6 187.8 L1422.5 187.1 L1421.5 186.4 L1420.4 185.7 L1419.3 184.9 L1418.2 184.2 L1417.2 183.5 L1416.1 182.8 L1415.0 182.1 L1413.9 181.4 L1413.4 181.0 M1399.3 171.9 L1398.0 171.1 L1396.9 170.4 L1395.8 169.7 L1394.7 169.0 L1393.6 168.3 L1392.5 167.6 L1391.4 167.0 L1390.3 166.3 L1389.2 165.6 L1388.1 165.0 L1387.0 164.3 L1386.4 163.9 M1372.7 156.1 L1371.4 155.3 L1370.2 154.7 L1369.1 154.1 L1368.0 153.5 L1366.8 152.9 L1365.7 152.3 L1364.6 151.7 L1363.4 151.1 L1362.3 150.5 L1361.2 149.9 L1360.0 149.3 L1359.3 148.9 M1344.9 141.8 L1343.5 141.1 L1342.3 140.6 L1341.2 140.0 L1340.0 139.5 L1338.8 138.9 L1337.7 138.4 L1336.5 137.9 L1335.3 137.3 L1334.1 136.8 L1333.0 136.3 L1331.8 135.8 L1331.1 135.5 M1317.2 129.6 L1315.9 129.0 L1314.7 128.6 L1313.5 128.1 L1312.3 127.6 L1311.1 127.1 L1309.9 126.7 L1308.7 126.2 L1307.5 125.7 L1306.3 125.3 L1305.1 124.8 L1303.9 124.3 L1303.0 124.0 M1288.3 118.8 L1286.8 118.2 L1285.6 117.8 L1284.4 117.4 L1283.1 117.0 L1281.9 116.6 L1280.7 116.2 L1279.4 115.8 L1278.2 115.4 L1276.9 115.0 L1275.7 114.6 L1274.5 114.3 L1273.9 114.1 M1260.0 110.0 L1258.7 109.7 L1257.4 109.3 L1256.2 109.0 L1254.9 108.7 L1253.7 108.4 L1252.4 108.0 L1251.2 107.7 L1249.9 107.4 L1248.6 107.1 L1247.4 106.8 L1246.1 106.5 L1245.3 106.3 M1230.6 103.0 L1229.3 102.7 L1228.0 102.5 L1226.7 102.2 L1225.5 102.0 L1224.2 101.7 L1222.9 101.5 L1221.6 101.3 L1220.4 101.0 L1219.1 100.8 L1217.8 100.6 L1216.5 100.4 L1215.7 100.2 M1200.9 98.0 L1199.5 97.8 L1198.2 97.7 L1196.9 97.5 L1195.7 97.3 L1194.4 97.2 L1193.1 97.1 L1191.8 96.9 L1190.5 96.8 L1189.3 96.6 L1188.0 96.5 L1186.7 96.4 L1185.8 96.3 M1170.7 95.2 L1169.1 95.1 L1167.9 95.1 L1166.6 95.0 L1165.3 95.0 L1164.0 94.9 L1162.7 94.9 L1161.4 94.8 L1160.1 94.8 L1158.9 94.8 L1157.6 94.7 L1156.3 94.7 L1155.5 94.7 M1141.0 94.8 L1139.6 94.9 L1138.3 94.9 L1137.0 95.0 L1135.7 95.0 L1134.5 95.1 L1133.2 95.2 L1131.9 95.2 L1130.6 95.3 L1129.3 95.4 L1128.1 95.4 L1126.8 95.5 L1125.8 95.6 M1111.2 96.9 L1109.7 97.1 L1108.4 97.2 L1107.2 97.4 L1105.9 97.5 L1104.6 97.7 L1103.3 97.9 L1102.1 98.0 L1100.8 98.2 L1099.5 98.4 L1098.2 98.6 L1097.0 98.8 L1096.1 98.9 M1081.1 101.5 L1079.6 101.7 L1078.4 102.0 L1077.1 102.2 L1075.9 102.5 L1074.6 102.8 L1073.3 103.0 L1072.1 103.3 L1070.8 103.6 L1069.6 103.8 L1068.3 104.1 L1067.0 104.4 L1066.2 104.6 M1052.0 108.2 L1050.8 108.5 L1049.5 108.9 L1048.3 109.2 L1047.0 109.6 L1045.8 109.9 L1044.5 110.3 L1043.3 110.7 L1042.0 111.0 L1040.8 111.4 L1039.6 111.8 L1038.3 112.2 L1037.4 112.4 M1023.1 117.2 L1021.9 117.6 L1020.7 118.1 L1019.5 118.5 L1018.2 119.0 L1017.0 119.4 L1015.8 119.9 L1014.6 120.3 L1013.4 120.8 L1012.1 121.3 L1010.9 121.7 L1009.7 122.2 L1008.9 122.5 M995.4 128.1 L994.0 128.7 L992.8 129.3 L991.7 129.8 L990.5 130.3 L989.3 130.9 L988.1 131.4 L986.9 132.0 L985.7 132.6 L984.6 133.1 L983.4 133.7 L982.2 134.3 L981.6 134.6 M967.7 142.1 L966.6 142.7 L965.5 143.4 L964.4 144.1 L963.3 144.8 L962.2 145.5 L961.1 146.2 L960.0 146.9 L958.9 147.6 L957.8 148.3 L956.8 149.0 L955.7 149.7 L954.9 150.3 M942.5 160.0 L941.5 160.9 L940.5 161.7 L939.6 162.6 L938.7 163.5 L937.7 164.4 L936.8 165.3 L935.9 166.2 L935.0 167.1 L934.1 168.0 L933.2 169.0 L932.3 169.9 L931.7 170.6 M922.2 182.5 L921.3 183.8 L920.6 184.9 L920.0 186.0 L919.3 187.1 L918.7 188.2 L918.0 189.3 L917.4 190.5 L916.8 191.6 L916.3 192.7 L915.7 193.9 L915.2 195.0 L914.9 195.8 M910.2 215.0 L910.1 216.4 L910.1 217.7 L910.1 218.9 L909.6 220.2 L909.7 221.5 L909.8 222.8 L909.9 224.1 L910.0 225.4 L910.2 226.8 L910.3 228.1 L910.5 229.1 M915.5 245.8 L916.1 247.1 L916.6 248.3 L917.2 249.4 L917.8 250.5 L918.4 251.7 L919.0 252.8 L919.7 253.8 L920.3 254.9 L921.0 256.0 L921.7 257.1 L922.4 258.1 L923.0 258.9 M934.1 271.9 L935.1 272.9 L936.1 273.8 L937.0 274.7 L937.9 275.6 L938.9 276.5 L939.8 277.3 L940.8 278.2 L941.7 279.0 L942.7 279.9 L943.7 280.7 L944.7 281.6 L945.3 282.1 M958.3 292.2 L959.3 292.9 L960.4 293.6 L961.4 294.3 L962.5 295.1 L963.6 295.8 L964.6 296.5 L965.7 297.2 L966.8 297.9 L967.9 298.6 L969.0 299.3 L970.1 300.0 L971.0 300.5 M985.0 308.5 L986.3 309.1 L987.4 309.7 L988.6 310.3 L989.7 310.9 L990.9 311.5 L992.1 312.0 L993.2 312.6 L994.4 313.1 L995.6 313.7 L996.8 314.2 L998.0 314.7 L998.7 315.1 M1013.4 321.0 L1014.9 321.5 L1016.1 321.9 L1017.3 322.4 L1018.6 322.8 L1019.8 323.2 L1021.0 323.6 L1022.3 324.0 L1023.5 324.4 L1024.8 324.8 L1026.0 325.2 L1027.2 325.5 L1027.8 325.7 M1042.7 329.6 L1044.0 329.9 L1045.3 330.2 L1046.6 330.4 L1047.8 330.7 L1049.1 331.0 L1050.4 331.2 L1051.6 331.5 L1052.9 331.7 L1054.2 331.9 L1055.5 332.1 L1056.7 332.4 L1057.6 332.5 M1072.7 334.5 L1074.2 334.6 L1075.5 334.8 L1076.8 334.9 L1078.1 335.0 L1079.4 335.1 L1080.7 335.2 L1081.9 335.2 L1083.2 335.3 L1084.5 335.4 L1085.8 335.4 L1087.1 335.5 L1087.9 335.5 M1102.0 335.7 L1103.3 335.6 L1104.6 335.6 L1105.9 335.6 L1107.2 335.5 L1108.4 335.5 L1109.7 335.4 L1111.0 335.3 L1112.3 335.3 L1113.5 335.2 L1114.8 335.1 L1116.1 335.0 L1117.2 334.9 M1131.6 333.5 L1133.1 333.3 L1134.4 333.1 L1135.6 332.9 L1136.9 332.7 L1138.2 332.5 L1139.4 332.3 L1140.7 332.1 L1142.0 331.9 L1143.2 331.7 L1144.5 331.5 L1145.7 331.3 L1146.6 331.1 M1161.6 328.0 L1162.9 327.7 L1164.2 327.4 L1165.4 327.1 L1166.7 326.8 L1167.9 326.5 L1169.2 326.2 L1170.4 325.8 L1171.6 325.5 L1172.9 325.2 L1174.1 324.9 L1175.4 324.5 L1176.3 324.2 M1190.7 319.9 L1192.2 319.4 L1193.4 319.0 L1194.6 318.5 L1195.8 318.1 L1197.1 317.7 L1198.3 317.3 L1199.5 316.9 L1200.7 316.4 L1201.9 316.0 L1203.1 315.5 L1204.3 315.1 L1205.0 314.8 M1219.0 309.3 L1220.3 308.8 L1221.5 308.3 L1222.7 307.8 L1223.9 307.3 L1225.0 306.8 L1226.2 306.2 L1227.4 305.7 L1228.6 305.2 L1229.8 304.7 L1231.0 304.2 L1232.1 303.6 L1233.0 303.3 M1247.3 296.6 L1248.5 296.0 L1249.7 295.5 L1250.9 294.9 L1252.0 294.3 L1253.2 293.8 L1254.4 293.2 L1255.5 292.6 L1256.7 292.0 L1257.8 291.5 L1259.0 290.9 L1260.2 290.3 L1261.0 289.9 M1274.6 283.0 L1276.0 282.3 L1277.1 281.7 L1278.3 281.1 L1279.4 280.5 L1280.6 279.9 L1281.7 279.3 L1282.9 278.7 L1284.0 278.1 L1285.2 277.5 L1286.3 276.9 L1287.5 276.3 L1288.1 276.0 M1301.9 268.9 L1303.2 268.2 L1304.4 267.6 L1305.5 267.0 L1306.7 266.4 L1307.9 265.8 L1309.0 265.2 L1310.2 264.6 L1311.3 264.0 L1312.5 263.4 L1313.6 262.9 L1314.8 262.3 L1315.5 261.9 M1328.9 255.2 L1330.3 254.5 L1331.4 254.0 L1332.6 253.4 L1333.7 252.9 L1334.9 252.3 L1336.1 251.7 L1337.2 251.2 L1338.4 250.6 L1339.6 250.1 L1340.8 249.5 L1341.9 249.0 L1342.6 248.6 M1356.0 242.6 L1357.2 242.1 L1358.4 241.6 L1359.6 241.1 L1360.8 240.5 L1362.0 240.0 L1363.2 239.6 L1364.3 239.1 L1365.5 238.6 L1366.7 238.1 L1367.9 237.6 L1369.1 237.1 L1370.0 236.8 M1384.8 231.2 L1386.0 230.8 L1387.2 230.4 L1388.4 230.0 L1389.6 229.6 L1390.8 229.2 L1392.1 228.8 L1393.3 228.4 L1394.5 228.0 L1395.7 227.6 L1397.0 227.3 L1398.2 226.9 L1399.3 226.6 M1413.7 222.7 L1415.1 222.3 L1416.4 222.1 L1417.6 221.8 L1418.9 221.5 L1420.1 221.2 L1421.4 221.0 L1422.7 220.7 L1423.9 220.4 L1425.2 220.2 L1426.5 220.0 L1427.7 219.7 L1428.6 219.6 M1443.7 217.6 L1445.2 217.5 L1446.5 217.4 L1447.8 217.4 L1449.1 217.3 L1450.3 217.3 L1451.6 217.2 L1452.9 217.2 L1454.2 217.2 L1455.5 217.2 L1456.8 217.3 L1458.1 217.3 L1458.9 217.4" class="bc"/>
<text class="tk" transform="translate(68.78 131.4) scale(0.9 1)">0.<tspan dx="2.97" textLength="11.88" lengthAdjust="spacingAndGlyphs">1</tspan></text>
<text class="tk" text-anchor="end" transform="translate(105.9 181.3) scale(0.9 1)">0.05</text>
<text class="tk" text-anchor="end" transform="translate(105.9 231.2) scale(0.9 1)">0</text>
<text class="tk" text-anchor="end" transform="translate(105.9 281.0) scale(0.9 1)">-0.05</text>
<text class="tk" transform="translate(57.58 330.9) scale(0.9 1)">-0.<tspan dx="3.02" textLength="11.88" lengthAdjust="spacingAndGlyphs">1</tspan></text>
<text class="tk" text-anchor="middle" transform="translate(118.0 463.2) scale(0.9 1)">0</text>
<text class="tk" text-anchor="middle" transform="translate(233.0 463.2) scale(0.9 1)">0.2</text>
<text class="tk" text-anchor="middle" transform="translate(348.0 463.2) scale(0.9 1)">0.4</text>
<text class="tk" text-anchor="middle" transform="translate(463.0 463.2) scale(0.9 1)">0.6</text>
<text class="tk" text-anchor="middle" transform="translate(578.0 463.2) scale(0.9 1)">0.8</text>
<text class="tk" text-anchor="middle" transform="translate(692.30 463.2) scale(0.65 1)">1</text>
<text class="lb" text-anchor="middle" transform="translate(405.5 499.5) scale(0.9 1)">Normalized chord length (x/c)</text>
<text class="lb" text-anchor="middle" transform="translate(29.3 220.9) scale(0.86 1) rotate(-90)">y/c</text>
<text class="tk" transform="translate(859.88 31.7) scale(0.9 1)">0.<tspan dx="2.97" textLength="11.88" lengthAdjust="spacingAndGlyphs">1</tspan></text>
<text class="tk" text-anchor="end" transform="translate(897.0 131.3) scale(0.9 1)">0.05</text>
<text class="tk" text-anchor="end" transform="translate(897.0 231.0) scale(0.9 1)">0</text>
<text class="tk" text-anchor="end" transform="translate(897.0 330.7) scale(0.9 1)">-0.05</text>
<text class="tk" transform="translate(848.68 430.3) scale(0.9 1)">-0.<tspan dx="3.02" textLength="11.88" lengthAdjust="spacingAndGlyphs">1</tspan></text>
<text class="tk" text-anchor="middle" transform="translate(909.3 463.2) scale(0.9 1)">0</text>
<text class="tk" text-anchor="middle" transform="translate(1023.0 463.2) scale(0.9 1)">0.2</text>
<text class="tk" text-anchor="middle" transform="translate(1136.6 463.2) scale(0.9 1)">0.4</text>
<text class="tk" text-anchor="middle" transform="translate(1250.3 463.2) scale(0.9 1)">0.6</text>
<text class="tk" text-anchor="middle" transform="translate(1363.9 463.2) scale(0.9 1)">0.8</text>
<text class="tk" text-anchor="middle" transform="translate(1476.90 463.2) scale(0.65 1)">1</text>
<text class="lb" text-anchor="middle" transform="translate(1193.4 499.5) scale(0.9 1)">Normalized chord length (x/c)</text>
<text class="lb" text-anchor="middle" transform="translate(821.0 220.9) scale(0.86 1) rotate(-90)">y/c</text>
<line x1="539.2" y1="47.3" x2="617.6" y2="47.3" stroke="#ff0000" stroke-width="5"/>
<line x1="539.2" y1="82.2" x2="617.6" y2="82.2" stroke="#0000ff" stroke-width="5" stroke-dasharray="14.8 15.6"/>
<text class="lg" transform="translate(623.2 57.2) scale(0.945 1)">base</text>
<text class="lg2" transform="translate(622.7 91.8) scale(0.877 1)">CST</text>
<line x1="1329.3" y1="51.4" x2="1406.7" y2="51.4" stroke="#ff0000" stroke-width="5"/>
<line x1="1329.3" y1="86.7" x2="1406.7" y2="86.7" stroke="#0000ff" stroke-width="5" stroke-dasharray="14.8 15.6"/>
<text class="lg" transform="translate(1412.4 61.6) scale(0.945 1)">base</text>
<text class="lg2" transform="translate(1411.9 96.4) scale(0.877 1)">CST</text>
<text class="cap" transform="translate(381.8 546.0) scale(0.93 1)" text-anchor="middle">(<tspan font-weight="bold">a</tspan>)</text>
<text class="cap" transform="translate(1176.1 546.0) scale(0.98 1)" text-anchor="middle">(<tspan font-weight="bold">b</tspan>)</text>
</svg>
</body></html>
